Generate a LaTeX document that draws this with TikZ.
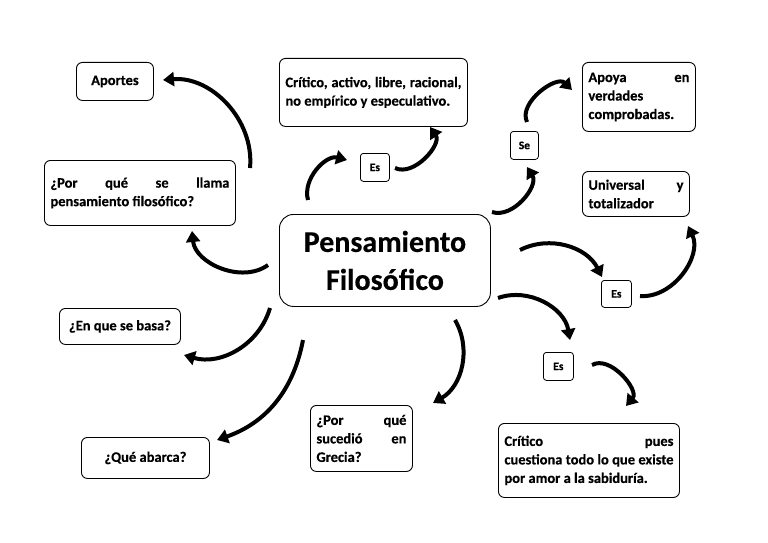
\documentclass[tikz,border=0pt]{standalone}
\usepackage{fontspec}
\setmainfont{Carlito}[FakeBold=0.4]
\hyphenpenalty=10000
\usetikzlibrary{arrows.meta}
\begin{document}
\begin{tikzpicture}[x=1pt,y=-1pt,
 bx/.style={draw,rounded corners=6pt,line width=0.9pt,font=\fontsize{14.5}{18.5}\selectfont\bfseries,inner sep=6pt,anchor=north west},
 sm/.style={draw,rounded corners=3pt,line width=0.8pt,font=\fontsize{11.5}{13}\selectfont\bfseries,minimum width=28pt,minimum height=28pt,anchor=north west,inner sep=0pt},
 ar/.style={line width=4pt,-{Triangle[length=11pt,width=14pt]}}]
\useasboundingbox (0,0) rectangle (768,543);
\node[bx,minimum width=77pt,minimum height=38pt] (aport) at (76,62) {Aportes};
\node[bx,text width=176pt,align=justify,minimum height=68pt] (crit) at (279,58) {Crítico, activo, libre, racional, no empírico y especulativo.};
\node[bx,text width=101pt,align=justify,minimum height=69pt] (apoya) at (582,62) {Apoya\hfill en verdades comprobadas.};
\node[sm] (se) at (510,131) {Se};
\node[sm,minimum width=29pt] (es1) at (360,153) {Es};
\node[bx,text width=179pt,align=justify,minimum height=65pt] (porque) at (44,160) {¿Por qué se llama\linebreak pensamiento filosófico?};
\node[bx,text width=95pt,align=justify,minimum height=45pt] (univ) at (582,171) {Universal\hfill y totalizador};
\node[draw,rounded corners=14pt,line width=0.9pt,minimum width=211pt,minimum height=92pt,anchor=north west,align=center,font=\fontsize{30}{38}\selectfont\bfseries] (main) at (279,214) {Pensamiento\\Filosófico};
\node[sm,minimum width=30pt,minimum height=27pt] (es2) at (601,280) {Es};
\node[bx,minimum width=121pt,minimum height=36pt] (basa) at (59,308) {¿En que se basa?};
\node[sm,minimum width=30pt] (es3) at (543,352) {Es};
\node[bx,text width=90pt,align=justify,minimum height=66pt] (grecia) at (310,405) {¿Por\hfill qué\linebreak sucedió\hfill en\linebreak Grecia?};
\node[bx,minimum width=128pt,minimum height=41pt] (abarca) at (81,437) {¿Qué abarca?};
\node[bx,text width=169pt,align=justify,minimum height=74pt] (crit2) at (498,423) {Crítico\hfill pues cuestiona todo lo que existe por amor a la sabiduría.};
\coordinate (a1) at (250,168); \coordinate (b1) at (163,80);
\coordinate (a2) at (268,265); \coordinate (b2) at (192,231);
\coordinate (a3) at (308,200); \coordinate (b3) at (347,160);
\coordinate (a4) at (395,168); \coordinate (b4) at (430,127);
\coordinate (a5) at (492,212); \coordinate (b5) at (527,167);
\coordinate (a6) at (527,122); \coordinate (b6) at (572,90);
\coordinate (a7) at (520,250); \coordinate (b7) at (602,277);
\coordinate (a8) at (640,296); \coordinate (b8) at (688,226);
\coordinate (a9) at (498,298); \coordinate (b9) at (570,340);
\coordinate (a10) at (592,365); \coordinate (b10) at (626,406);
\coordinate (a11) at (455,320); \coordinate (b11) at (433,403);
\coordinate (a12) at (270,308); \coordinate (b12) at (184,355);
\coordinate (a13) at (303,340); \coordinate (b13) at (217,440);
\draw[ar] (a1) to[bend right=50] (b1);
\draw[ar] (a2) to[bend left=60] (b2);
\draw[ar] (a3) to[bend left=60] (b3);
\draw[ar] (a4) to[bend right=75] (b4);
\draw[ar] (a5) to[bend right=70] (b5);
\draw[ar] (a6) to[bend left=80] (b6);
\draw[ar] (a7) to[bend left=45] (b7);
\draw[ar] (a8) to[bend right=60] (b8);
\draw[ar] (a9) to[bend left=50] (b9);
\draw[ar] (a10) to[bend left=80] (b10);
\draw[ar] (a11) to[bend left=45] (b11);
\draw[ar] (a12) to[bend left=45] (b12);
\draw[ar] (a13) to[bend left=30] (b13);
\end{tikzpicture}
\end{document}
